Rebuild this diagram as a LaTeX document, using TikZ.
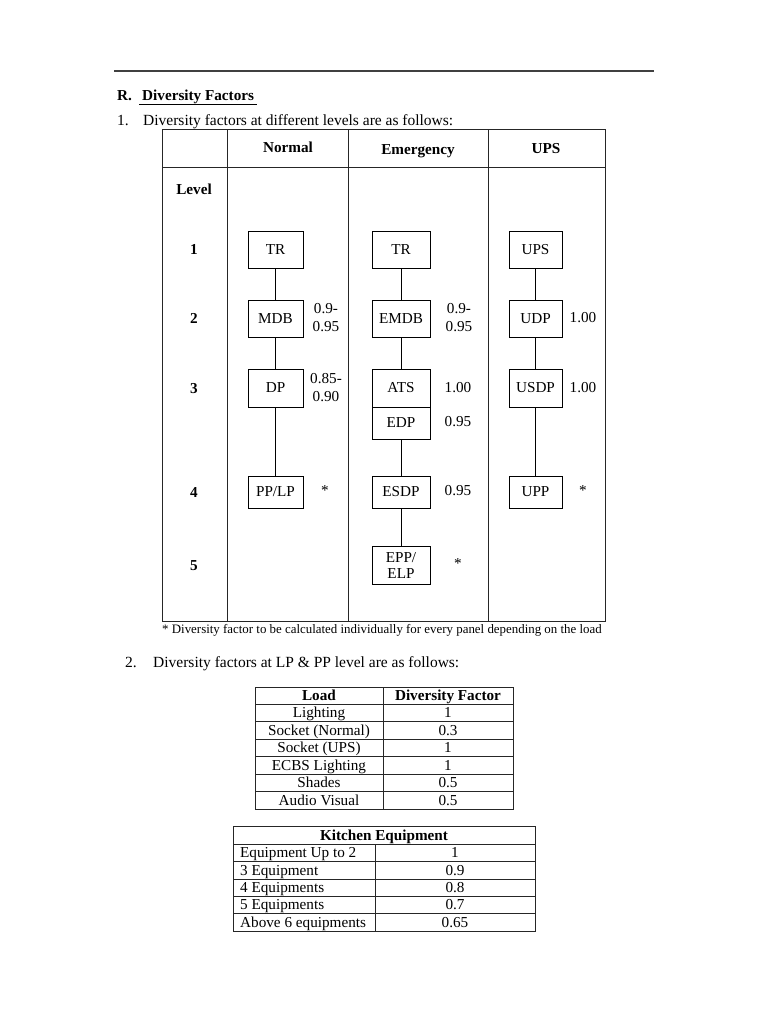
\documentclass[tikz,border=0pt]{standalone}
\usepackage{fontspec}
\setmainfont{Liberation Serif}
\begin{document}
\begin{tikzpicture}[x=1pt,y=-1pt,
  txt/.style={font=\fontsize{15.2}{18}\selectfont, inner sep=0pt},
  ptxt/.style={font=\fontsize{15.5}{18}\selectfont, inner sep=0pt},
  btxt/.style={font=\fontsize{15.2}{18}\selectfont\bfseries, inner sep=0pt},
  small/.style={font=\fontsize{12.9}{16}\selectfont, inner sep=0pt},
  grid/.style={line width=1pt, draw=black!85},
  tgrid/.style={line width=0.8pt, draw=black!85},
  panel/.style={draw, line width=0.9pt, font=\fontsize{15.2}{16}\selectfont, inner sep=0pt, align=center, minimum height=37pt},
  ncol/.style={panel, minimum width=55pt},
  ecol/.style={panel, minimum width=58pt},
  ucol/.style={panel, minimum width=53pt},
  val/.style={font=\fontsize{15.2}{18}\selectfont, inner sep=0pt, align=center},
  link/.style={line width=0.9pt}
]
\useasboundingbox (0,0) rectangle (768,1024);
\fill[white] (0,0) rectangle (768,1024);

% top rule
\draw[line width=1.2pt, black!75] (114,71) -- (654,71);

% heading
\node[btxt, anchor=base west] (hR) at (117,101) {R.};
\node[btxt, anchor=base west] (hDF) at (142,101) {Diversity Factors};
\draw[line width=0.9pt] (139,104) -- (257,104);

\node[ptxt, anchor=base west] (n1) at (117,125.5) {1.};
\node[ptxt, anchor=base west] (l1) at (143,125.5) {Diversity factors at different levels are as follows:};

% main table grid
\draw[grid] (162,130) rectangle (605,621);
\draw[grid] (162,168) -- (605,168);
\draw[grid] (227,130) -- (227,621);
\draw[grid] (348,130) -- (348,621);
\draw[grid] (488,130) -- (488,621);

% headers
\node[btxt, anchor=base] (hN) at (288,153) {Normal};
\node[btxt, anchor=base] (hE) at (418,155) {Emergency};
\node[btxt, anchor=base] (hU) at (546,154) {UPS};

% levels
\node[btxt, anchor=base] (lv) at (194,195) {Level};
\node[btxt, anchor=base] (lv1) at (194,254) {1};
\node[btxt, anchor=base] (lv2) at (194,323) {2};
\node[btxt, anchor=base] (lv3) at (194,393) {3};
\node[btxt, anchor=base] (lv4) at (194,497) {4};
\node[btxt, anchor=base] (lv5) at (194,570) {5};

% Normal column
\node[ncol] (ntr) at (275.5,249.5) {TR};
\node[ncol] (nmdb) at (275.5,318.5) {MDB};
\node[ncol, minimum height=38pt] (ndp) at (275.5,388) {DP};
\node[ncol, minimum height=32pt] (npp) at (275.5,492) {PP/LP};
\draw[link] (ntr) -- (nmdb);
\draw[link] (nmdb) -- (ndp);
\draw[link] (ndp) -- (npp);
\node[val] (vn2) at (326,318) {0.9-\\0.95};
\node[val] (vn3) at (326,388) {0.85-\\0.90};
\node[val] (vn4) at (325,491) {*};

% Emergency column
\node[ecol] (etr) at (401,249.5) {TR};
\node[ecol] (emdb) at (401,318.5) {EMDB};
\node[ecol, minimum height=38pt] (eats) at (401,388) {ATS};
\node[ecol, minimum height=32pt] (edp) at (401,423) {EDP};
\node[ecol, minimum height=32pt] (esdp) at (401,492) {ESDP};
\node[ecol, minimum height=38pt] (epp) at (401,565) {EPP/\\ELP};
\draw[link] (etr) -- (emdb);
\draw[link] (emdb) -- (eats);
\draw[link] (edp) -- (esdp);
\draw[link] (esdp) -- (epp);
\node[val] (ve2) at (459,318) {0.9-\\0.95};
\node[val] (ve3) at (458,388) {1.00};
\node[val] (ve3b) at (458,422) {0.95};
\node[val] (ve4) at (458,491) {0.95};
\node[val] (ve5) at (458,564) {*};

% UPS column
\node[ucol] (ups) at (535.5,249.5) {UPS};
\node[ucol] (udp) at (535.5,318.5) {UDP};
\node[ucol, minimum height=38pt] (usdp) at (535.5,388) {USDP};
\node[ucol, minimum height=32pt] (upp) at (535.5,492) {UPP};
\draw[link] (ups) -- (udp);
\draw[link] (udp) -- (usdp);
\draw[link] (usdp) -- (upp);
\node[val] (vu2) at (583,318) {1.00};
\node[val] (vu3) at (583,388) {1.00};
\node[val] (vu4) at (583,491) {*};

% footnote
\node[small, anchor=base west] (fn) at (162,633) {* Diversity factor to be calculated individually for every panel depending on the load};

% section 2
\node[ptxt, anchor=base west] (n2) at (125,667) {2.};
\node[ptxt, anchor=base west] (l2) at (153,667) {Diversity factors at LP \& PP level are as follows:};

% table 2
\draw[tgrid] (255,687) rectangle (513,809);
\draw[tgrid] (383,687) -- (383,809);
\foreach \yy in {704,721.5,739,756.5,774,791.5} \draw[tgrid] (255,\yy) -- (513,\yy);
\node[btxt, anchor=base] (t2h1) at (319,700) {Load};
\node[btxt, anchor=base] (t2h2) at (448,700) {Diversity Factor};
\node[txt, anchor=base] (t2a1) at (319,717.5) {Lighting};
\node[txt, anchor=base] (t2b1) at (448,717.5) {1};
\node[txt, anchor=base] (t2a2) at (319,735) {Socket (Normal)};
\node[txt, anchor=base] (t2b2) at (448,735) {0.3};
\node[txt, anchor=base] (t2a3) at (319,752.5) {Socket (UPS)};
\node[txt, anchor=base] (t2b3) at (448,752.5) {1};
\node[txt, anchor=base] (t2a4) at (319,770) {ECBS Lighting};
\node[txt, anchor=base] (t2b4) at (448,770) {1};
\node[txt, anchor=base] (t2a5) at (319,787.5) {Shades};
\node[txt, anchor=base] (t2b5) at (448,787.5) {0.5};
\node[txt, anchor=base] (t2a6) at (319,805) {Audio Visual};
\node[txt, anchor=base] (t2b6) at (448,805) {0.5};

% kitchen table
\draw[tgrid] (233,826.5) rectangle (535,931);
\draw[tgrid] (375,844) -- (375,931);
\foreach \yy in {844,861.5,879,896,913.5} \draw[tgrid] (233,\yy) -- (535,\yy);
\node[btxt, anchor=base] (kh) at (384,840) {Kitchen Equipment};
\node[txt, anchor=base west] (ka1) at (240,857.5) {Equipment Up to 2};
\node[txt, anchor=base] (kb1) at (455,857.5) {1};
\node[txt, anchor=base west] (ka2) at (240,875) {3 Equipment};
\node[txt, anchor=base] (kb2) at (455,875) {0.9};
\node[txt, anchor=base west] (ka3) at (240,892) {4 Equipments};
\node[txt, anchor=base] (kb3) at (455,892) {0.8};
\node[txt, anchor=base west] (ka4) at (240,909.5) {5 Equipments};
\node[txt, anchor=base] (kb4) at (455,909.5) {0.7};
\node[txt, anchor=base west] (ka5) at (240,927) {Above 6 equipments};
\node[txt, anchor=base] (kb5) at (455,927) {0.65};
\end{tikzpicture}
\end{document}
